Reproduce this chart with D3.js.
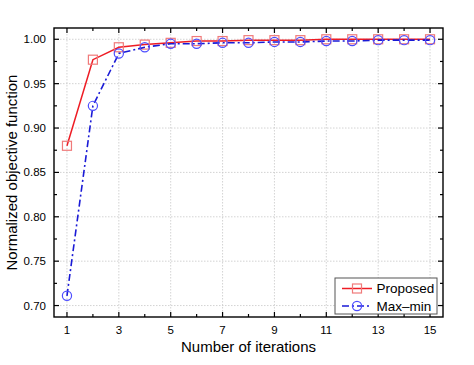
<!DOCTYPE html>
<html><head><meta charset="utf-8">
<script src="https://cdn.jsdelivr.net/npm/d3@7"></script>
<style>body{margin:0;background:#fff;}svg{display:block;font-family:"Liberation Sans",Arial,sans-serif;}</style>
</head><body><svg id="c" width="474" height="365"></svg>
<script>
const iterations = [1,2,3,4,5,6,7,8,9,10,11,12,13,14,15];
const proposed = [0.880,0.977,0.991,0.994,0.996,0.998,0.998,0.999,0.999,0.999,1.000,1.000,1.000,1.000,1.000];
const maxmin   = [0.711,0.925,0.984,0.991,0.995,0.995,0.996,0.996,0.997,0.997,0.998,0.998,0.999,0.999,0.999];
const xTicks = [1,3,5,7,9,11,13,15];
const xMinor = [2,4,6,8,10,12,14];
const yTicks = [0.70,0.75,0.80,0.85,0.90,0.95,1.00];
const yMinor = [0.725,0.775,0.825,0.875,0.925,0.975];
const seriesNames = ["Proposed","Max\u2013min"];

const svg = d3.select("#c");
const L=54, R=443, T=28, B=317;
const x = d3.scaleLinear().domain([0.5,15.5]).range([L,R]);
const y = d3.scaleLinear().domain([0.6871,1.0127]).range([B,T]);

// grid
const g = svg.append("g");
g.selectAll(".gx").data(xTicks).enter().append("line")
 .attr("x1",d=>x(d)).attr("x2",d=>x(d)).attr("y1",T).attr("y2",B)
 .attr("stroke","#c8c8c8").attr("stroke-width",0.8).attr("stroke-dasharray","1.5,1.5");
g.selectAll(".gy").data(yTicks).enter().append("line")
 .attr("y1",d=>y(d)).attr("y2",d=>y(d)).attr("x1",L).attr("x2",R)
 .attr("stroke","#c8c8c8").attr("stroke-width",0.8).attr("stroke-dasharray","1.5,1.5");

// axes with inward ticks
function tickAxes(){
  const major=5, minor=3;
  const a = svg.append("g").attr("stroke","#000").attr("stroke-width",1.2);
  xTicks.forEach(t=>{a.append("line").attr("x1",x(t)).attr("x2",x(t)).attr("y1",B).attr("y2",B-major);
                     a.append("line").attr("x1",x(t)).attr("x2",x(t)).attr("y1",T).attr("y2",T+major);});
  xMinor.forEach(t=>{a.append("line").attr("x1",x(t)).attr("x2",x(t)).attr("y1",B).attr("y2",B-minor);
                     a.append("line").attr("x1",x(t)).attr("x2",x(t)).attr("y1",T).attr("y2",T+minor);});
  yTicks.forEach(t=>{a.append("line").attr("y1",y(t)).attr("y2",y(t)).attr("x1",L).attr("x2",L+major);
                     a.append("line").attr("y1",y(t)).attr("y2",y(t)).attr("x1",R).attr("x2",R-major);});
  yMinor.forEach(t=>{a.append("line").attr("y1",y(t)).attr("y2",y(t)).attr("x1",L).attr("x2",L+minor);
                     a.append("line").attr("y1",y(t)).attr("y2",y(t)).attr("x1",R).attr("x2",R-minor);});
}
tickAxes();

// tick labels
svg.append("g").selectAll("text").data(xTicks).enter().append("text")
 .attr("x",d=>x(d)).attr("y",B+17).attr("text-anchor","middle")
 .attr("font-size","11.5px").attr("fill","#000").text(d=>d);
svg.append("g").selectAll("text").data(yTicks).enter().append("text")
 .attr("x",L-8).attr("y",d=>y(d)).attr("dy","0.35em").attr("text-anchor","end")
 .attr("font-size","11.5px").attr("fill","#000").text(d=>d.toFixed(2));

// titles
svg.append("text").attr("x",(L+R)/2).attr("y",352).attr("text-anchor","middle")
 .attr("font-size","15px").text("Number of iterations");
svg.append("text").attr("transform",`translate(17,${(T+B)/2}) rotate(-90)`).attr("text-anchor","middle")
 .attr("font-size","15px").text("Normalized objective function");

const line = d3.line().x(d=>x(d[0])).y(d=>y(d[1]));
const pData = iterations.map((it,i)=>[it,proposed[i]]);
const mData = iterations.map((it,i)=>[it,maxmin[i]]);
const red="#ee1c24", redM="#f07a7a", blue="#1a1ad6", blueM="#4d4dff";
const dashDot="7,3,2,3";

svg.append("path").datum(pData).attr("d",line).attr("fill","none").attr("stroke",red).attr("stroke-width",1.5);
svg.append("g").selectAll("rect").data(pData).enter().append("rect")
 .attr("x",d=>x(d[0])-4.5).attr("y",d=>y(d[1])-4.5).attr("width",9).attr("height",9)
 .attr("fill","none").attr("stroke",redM).attr("stroke-width",1.2);

svg.append("path").datum(mData).attr("d",line).attr("fill","none").attr("stroke",blue).attr("stroke-width",1.6).attr("stroke-dasharray",dashDot);
svg.append("g").selectAll("circle").data(mData).enter().append("circle")
 .attr("cx",d=>x(d[0])).attr("cy",d=>y(d[1])).attr("r",4.6)
 .attr("fill","none").attr("stroke",blueM).attr("stroke-width",1.2);

// frame
svg.append("rect").attr("x",L).attr("y",T).attr("width",R-L).attr("height",B-T)
 .attr("fill","none").attr("stroke","#000").attr("stroke-width",1.4);

// legend
const lg = svg.append("g");
lg.append("rect").attr("x",335).attr("y",278).attr("width",102).attr("height",36)
 .attr("fill","#fff").attr("stroke","#555").attr("stroke-width",1);
const ly=[288.5,306];
lg.append("line").attr("x1",342).attr("x2",372).attr("y1",ly[0]).attr("y2",ly[0]).attr("stroke",red).attr("stroke-width",1.5);
lg.append("rect").attr("x",357-4.5).attr("y",ly[0]-4.5).attr("width",9).attr("height",9).attr("fill","none").attr("stroke",redM).attr("stroke-width",1.2);
lg.append("line").attr("x1",342).attr("x2",372).attr("y1",ly[1]).attr("y2",ly[1]).attr("stroke",blue).attr("stroke-width",1.6).attr("stroke-dasharray",dashDot);
lg.append("circle").attr("cx",357).attr("cy",ly[1]).attr("r",4.6).attr("fill","none").attr("stroke",blueM).attr("stroke-width",1.2);
lg.selectAll("text").data(seriesNames).enter().append("text")
 .attr("x",376.5).attr("y",(d,i)=>ly[i]).attr("dy","0.36em").attr("font-size","13.5px").text(d=>d);
</script></body></html>
